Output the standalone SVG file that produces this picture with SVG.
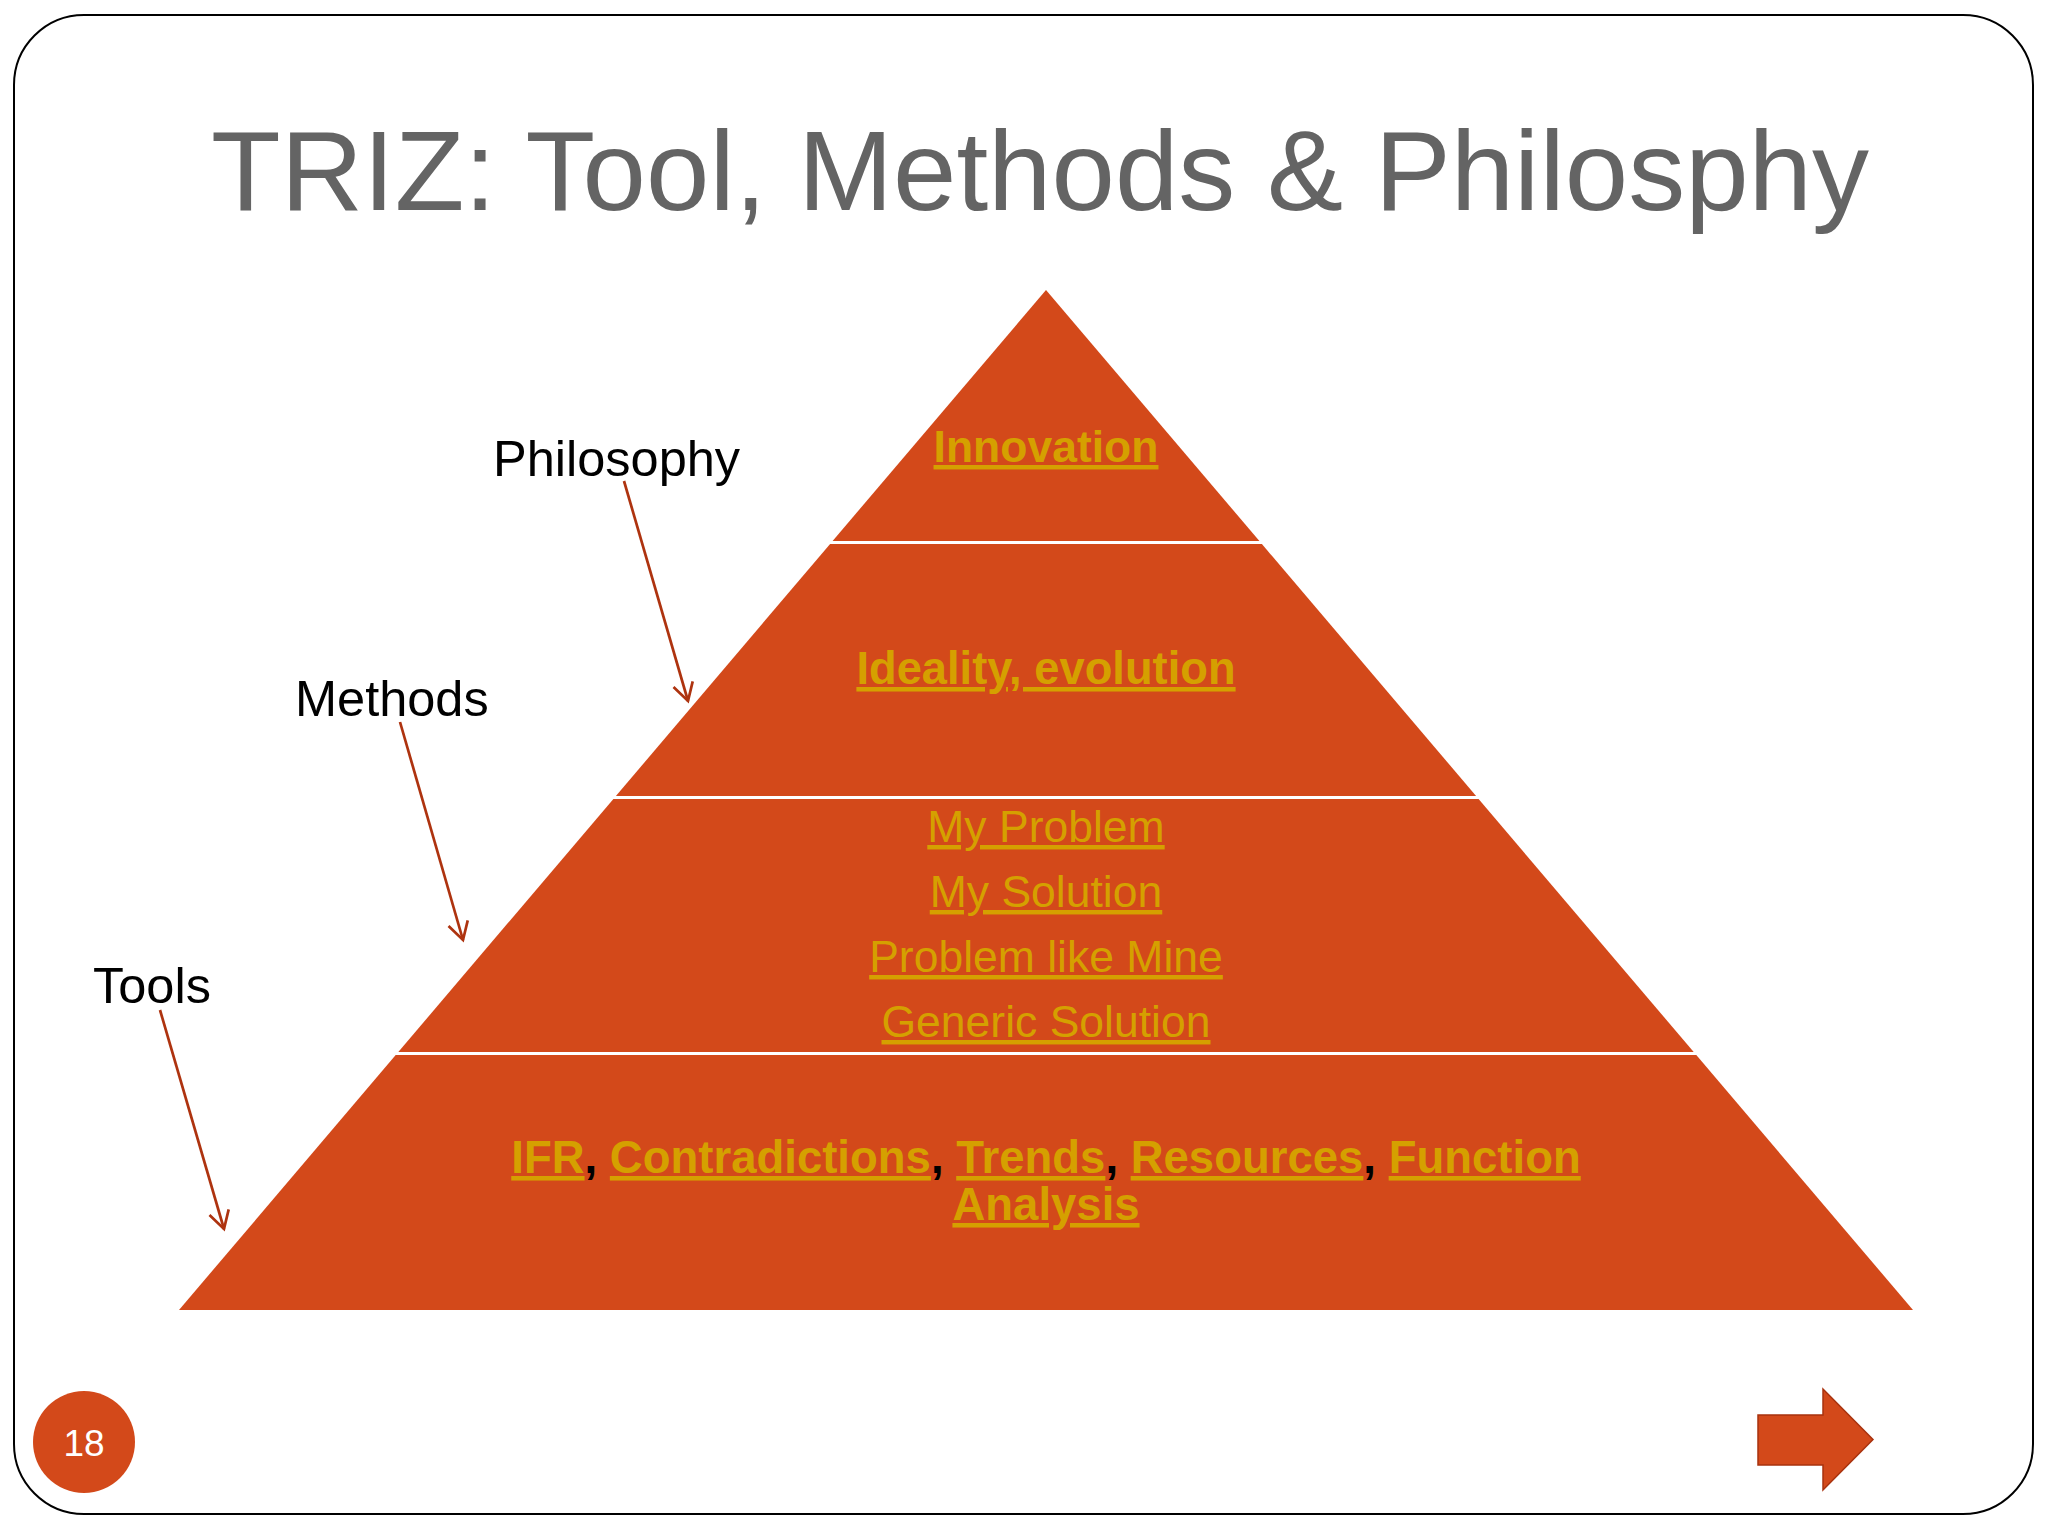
<svg xmlns="http://www.w3.org/2000/svg" width="2048" height="1536" viewBox="0 0 2048 1536">
  <style>
    .level { fill: #D3491A; }
    .gold { fill: #D5A000; font-family: "Liberation Sans", Arial, sans-serif; font-size: 44.5px; text-anchor: middle; }
    .b { font-weight: bold; }
    .u { text-decoration: underline; }
    .lbl { fill: #000; font-family: "Liberation Sans", Arial, sans-serif; font-size: 50.5px; }
    .conn { stroke: #AE330F; stroke-width: 2.7; fill: none; marker-end: url(#vhead); }
  </style>
  <defs>
    <marker id="vhead" markerUnits="userSpaceOnUse" viewBox="0 0 24 26" markerWidth="24" markerHeight="26" refX="21" refY="13" orient="auto">
      <path d="M3.5,3 L21,13 L3.5,23" fill="none" stroke="#AE330F" stroke-width="2.7"/>
    </marker>
  </defs>

  <rect id="frame" x="14" y="15" width="2019" height="1499" rx="70" ry="70" fill="#FFFFFF" stroke="#000" stroke-width="2"/>

  <text id="title" x="1040" y="210" fill="#646464" font-family="'Liberation Sans', Arial, sans-serif" font-size="114" text-anchor="middle">TRIZ: Tool, Methods &amp; Philosphy</text>

  <g id="level-innovation">
    <polygon class="level" points="1046,290 1259.4,541 832.6,541"/>
    <text class="gold b" x="1046" y="462"><tspan class="u">Innovation</tspan></text>
  </g>

  <g id="level-ideality">
    <polygon class="level" points="830.1,544 1261.9,544 1476.1,796 615.9,796"/>
    <text class="gold b" x="1046" y="684" style="font-size:45.3px"><tspan class="u">Ideality, evolution</tspan></text>
  </g>

  <g id="level-methods">
    <polygon class="level" points="613.4,799 1478.6,799 1693.7,1052 398.3,1052"/>
    <text class="gold" x="1046" y="842"><tspan class="u">My Problem</tspan></text>
    <text class="gold" x="1046" y="907"><tspan class="u">My Solution</tspan></text>
    <text class="gold" x="1046" y="972"><tspan class="u">Problem like Mine</tspan></text>
    <text class="gold" x="1046" y="1037"><tspan class="u">Generic Solution</tspan></text>
  </g>

  <g id="level-tools">
    <polygon class="level" points="395.7,1055 1696.3,1055 1913,1310 179,1310"/>
    <text class="gold b" x="1046" y="1173" style="font-size:45.5px"><tspan class="u">IFR</tspan><tspan fill="#000">, </tspan><tspan class="u">Contradictions</tspan><tspan fill="#000">, </tspan><tspan class="u">Trends</tspan><tspan fill="#000">, </tspan><tspan class="u">Resources</tspan><tspan fill="#000">, </tspan><tspan class="u">Function</tspan></text>
    <text class="gold b" x="1046" y="1220" style="font-size:45.5px"><tspan class="u">Analysis</tspan></text>
  </g>

  <g id="label-philosophy">
    <text class="lbl" x="493" y="476">Philosophy</text>
  </g>
  <g id="label-methods">
    <text class="lbl" x="295" y="716">Methods</text>
  </g>
  <g id="label-tools">
    <text class="lbl" x="93" y="1003">Tools</text>
  </g>

  <g id="connectors">
    <line class="conn" x1="624" y1="481" x2="688" y2="701"/>
    <line class="conn" x1="400" y1="722" x2="463" y2="940"/>
    <line class="conn" x1="160" y1="1010" x2="224" y2="1229"/>
  </g>

  <g id="page-number">
    <circle cx="84" cy="1442" r="51" fill="#D3491A"/>
    <text x="84" y="1456" fill="#FFFFFF" font-family="'Liberation Sans', Arial, sans-serif" font-size="37" text-anchor="middle">18</text>
  </g>

  <g id="next-arrow">
    <polygon points="1758,1415 1823,1415 1823,1389 1873,1439.5 1823,1490 1823,1465 1758,1465" fill="#D3491A" stroke="#A8320E" stroke-width="1.5"/>
  </g>
</svg>
